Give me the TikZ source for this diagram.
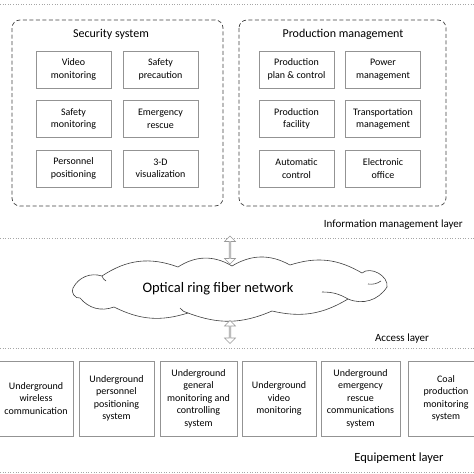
\documentclass[tikz,border=0pt]{standalone}
\usepackage{fontspec}
\setmainfont{Carlito}
\usetikzlibrary{shapes.arrows}
\begin{document}
\begin{tikzpicture}[x=1pt,y=-1pt,
  layerline/.style={draw=gray!70, dotted, line width=0.6pt},
  group/.style={draw=black!75, dash pattern=on 4pt off 2.5pt, line width=0.7pt, rounded corners=8pt},
  inbox/.style={draw=gray!85, line width=0.6pt, minimum width=75pt, minimum height=37pt, align=center, font=\fontsize{10}{12.5}\selectfont, inner sep=1pt, text=black},
  eqbox/.style={draw=gray!85, line width=0.6pt, minimum width=75pt, minimum height=75pt, align=center, font=\fontsize{10}{12.5}\selectfont, inner sep=1pt, text=black},
  layerlabel/.style={font=\fontsize{11}{13}\selectfont, text=black, inner sep=0pt},
  cloudline/.style={draw=black!75, line width=0.6pt},
  darrow/.style={draw=gray!80, fill=white, double arrow, shape border rotate=90, minimum width=11pt, double arrow head extend=2pt, inner sep=0pt, line width=0.6pt}]
\useasboundingbox (0,0) rectangle (474,474);
\begin{scope}
\clip (0,0) rectangle (474,474);
% layer lines
\coordinate (l1a) at (0,4); \coordinate (l1b) at (474,4);
\coordinate (l2a) at (0,238); \coordinate (l2b) at (474,238);
\coordinate (l3a) at (0,348); \coordinate (l3b) at (474,348);
\coordinate (l4a) at (0,472); \coordinate (l4b) at (474,472);
\draw[layerline] (l1a) -- (l1b);
\draw[layerline] (l2a) -- (l2b);
\draw[layerline] (l3a) -- (l3b);
\draw[layerline] (l4a) -- (l4b);
% groups
\draw[group] (12,20) rectangle (223,206);
\draw[group] (239,20) rectangle (446,206);
\node[font=\fontsize{12}{14}\selectfont, text=black] (sec) at (111,34) {Security system};
\node[font=\fontsize{12}{14}\selectfont, text=black] (prod) at (343,34) {Production management};
% security boxes
\node[inbox] (s1) at (73.5,69.5) {Video\\monitoring};
\node[inbox] (s2) at (160.5,69.5) {Safety\\precaution};
\node[inbox] (s3) at (73.5,119) {Safety\\monitoring};
\node[inbox] (s4) at (160.5,119) {Emergency\\rescue};
\node[inbox] (s5) at (73.5,168.5) {Personnel\\positioning};
\node[inbox] (s6) at (160.5,168.5) {3-D\\visualization};
% production boxes
\node[inbox] (p1) at (296.5,69.5) {Production\\plan \& control};
\node[inbox] (p2) at (383,69.5) {Power\\management};
\node[inbox] (p3) at (296.5,119) {Production\\facility};
\node[inbox] (p4) at (383,119) {Transportation\\management};
\node[inbox] (p5) at (296.5,168.5) {Automatic\\control};
\node[inbox] (p6) at (383,168.5) {Electronic\\office};
% layer labels
\node[layerlabel, anchor=east] (infol) at (463,225) {Information management layer};
\node[layerlabel] (accl) at (402,339) {Access layer};
\node[font=\fontsize{12.5}{14}\selectfont, text=black, inner sep=0pt] (eql) at (399,458) {Equipement layer};
% cloud
\coordinate (c0) at (73,288);
\coordinate (c1) at (102,276);
\coordinate (c2) at (178,267);
\coordinate (c3) at (232,266);
\coordinate (c4) at (290,265);
\coordinate (c5) at (362,273);
\coordinate (c6) at (387,287);
\coordinate (c7) at (348,299);
\coordinate (c8) at (272,311);
\coordinate (c9) at (188,313);
\coordinate (c10) at (114,307);
\coordinate (c11) at (80,298);
\draw[cloudline, fill=white] (c0) to[bend left=40] (c1) to[bend left=27] (c2) to[bend left=32] (c3)
  to[bend left=30] (c4) to[bend left=24] (c5) to[bend left=70] (c6) to[bend left=40] (c7)
  to[bend left=22] (c8) to[bend left=22] (c9) to[bend left=22] (c10) to[bend left=35] (c11)
  to[bend left=70] (c0) -- cycle;
% inner hooks
\coordinate (h2a) at (322,292); \coordinate (h2b) at (348,299);
\coordinate (h3a) at (368,284); \coordinate (h3b) at (381,281);
\coordinate (h5a) at (106,281); \coordinate (h5b) at (102,276);
\coordinate (h6a) at (180,308); \coordinate (h6b) at (188,313);
\draw[cloudline] (h2a) to[bend left=15] (h2b);
\draw[cloudline] (h3a) to[bend right=20] (h3b);
\draw[cloudline] (h5a) to[bend left=20] (h5b);
\draw[cloudline] (h6a) to[bend right=20] (h6b);
\node[font=\fontsize{14.5}{16}\selectfont, text=black, inner sep=0pt] (cloud) at (218,289) {Optical ring fiber network};
% arrows
\node[darrow, minimum height=28pt] (a1) at (230,250) {};
\node[darrow, minimum height=23pt] (a2) at (230,332) {};
% equipment boxes
\node[eqbox] (e1) at (36,398.5) {Underground\\wireless\\communication};
\node[eqbox] (e2) at (116.5,398.5) {Underground\\personnel\\positioning\\system};
\node[eqbox, minimum width=77pt] (e3) at (198.5,398.5) {Underground\\general\\monitoring and\\controlling\\system};
\node[eqbox, minimum width=74pt] (e4) at (279,398.5) {Underground\\video\\monitoring};
\node[eqbox, minimum width=79pt] (e5) at (360.5,398.5) {Underground\\emergency\\rescue\\communications\\system};
\node[eqbox, minimum width=76pt] (e6) at (446,398.5) {Coal\\production\\monitoring\\system};
\end{scope}
\end{tikzpicture}
\end{document}
